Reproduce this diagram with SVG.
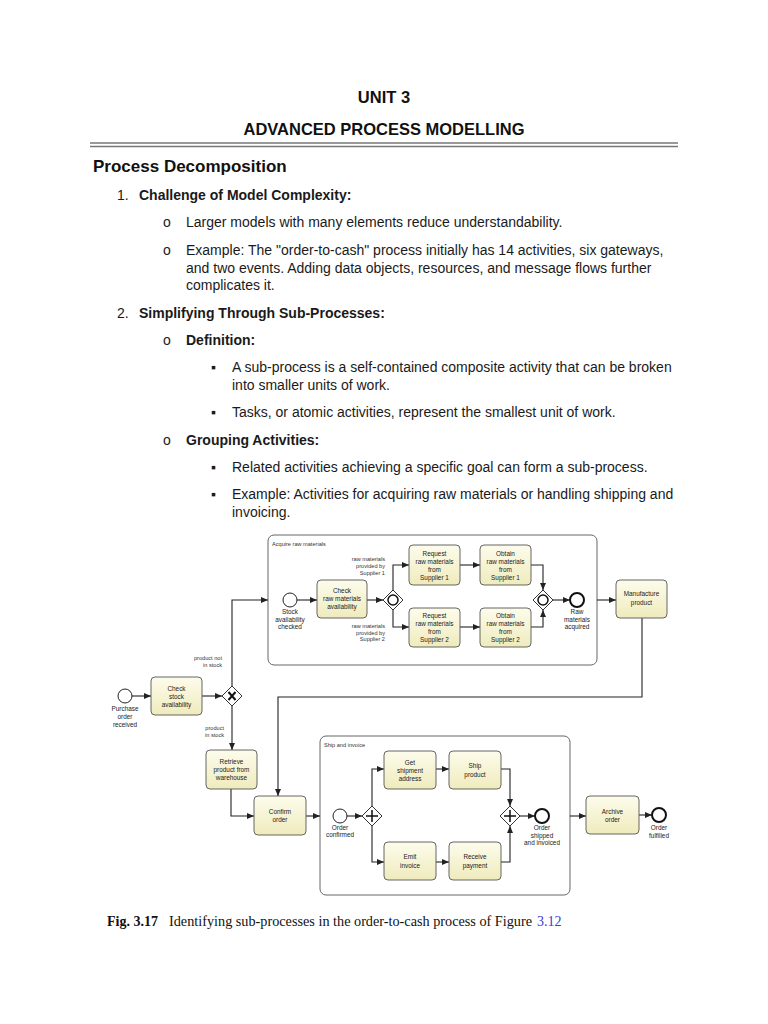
<svg xmlns="http://www.w3.org/2000/svg" width="768" height="1024" viewBox="0 0 768 1024">
<defs>
<linearGradient id="taskFill" x1="0" y1="0" x2="0" y2="1">
<stop offset="0" stop-color="#fdfcec"/>
<stop offset="1" stop-color="#efebbd"/>
</linearGradient>
<marker id="arr" markerUnits="userSpaceOnUse" markerWidth="7" markerHeight="6" refX="7" refY="3" orient="auto">
<path d="M0,0 L7,3 L0,6 z" fill="#222"/>
</marker>
</defs>
<style>
.body{font-family:"Liberation Sans",Arial,sans-serif;font-size:14px;fill:#1a1a1a}
.b{font-weight:700}
.h{font-family:"Liberation Sans",Arial,sans-serif;font-weight:700;fill:#111}
.task{fill:url(#taskFill);stroke:#555;stroke-width:0.9}
.sub{fill:#fff;stroke:#666;stroke-width:1}
.t{font-family:"Liberation Sans",Arial,sans-serif;font-size:6.4px;fill:#222;text-anchor:middle}
.lbl{font-family:"Liberation Sans",Arial,sans-serif;font-size:5.6px;fill:#333}
.r{text-anchor:end}
.ev{fill:#fff;stroke:#222;stroke-width:1}
.end{fill:#fff;stroke:#111;stroke-width:2}
.gw{fill:#fff;stroke:#333;stroke-width:1}
.flow{fill:none;stroke:#222;stroke-width:1.1;marker-end:url(#arr)}
.cap{font-family:"Liberation Serif","Times New Roman",serif;font-size:14px;fill:#111}
.link{fill:#3a3ad6}
</style>
<rect width="768" height="1024" fill="#fff"/>

<g id="header">
<text class="h" x="384" y="103" font-size="16.5" text-anchor="middle">UNIT 3</text>
<text class="h" x="384" y="135" font-size="16.5" text-anchor="middle" textLength="281" lengthAdjust="spacingAndGlyphs">ADVANCED PROCESS MODELLING</text>
<line x1="90" y1="143" x2="678" y2="143" stroke="#777" stroke-width="1.4"/>
<line x1="90" y1="146.5" x2="678" y2="146.5" stroke="#777" stroke-width="1.4"/>
<text class="h" x="93" y="172" font-size="17">Process Decomposition</text>
</g>

<g id="bodytext">
<text class="body" x="117" y="200">1.</text>
<text class="body b" x="139" y="200">Challenge of Model Complexity:</text>
<text class="body" x="163" y="227" font-size="11">o</text>
<text class="body" x="186" y="227">Larger models with many elements reduce understandability.</text>
<text class="body" x="163" y="255" font-size="11">o</text>
<text class="body" x="186" y="255">Example: The "order-to-cash" process initially has 14 activities, six gateways,</text>
<text class="body" x="186" y="273">and two events. Adding data objects, resources, and message flows further</text>
<text class="body" x="186" y="290">complicates it.</text>
<text class="body" x="117" y="318">2.</text>
<text class="body b" x="139" y="318">Simplifying Through Sub-Processes:</text>
<text class="body" x="163" y="345" font-size="11">o</text>
<text class="body b" x="186" y="345">Definition:</text>
<text class="body" x="211" y="372" font-size="10">▪</text>
<text class="body" x="232" y="372">A sub-process is a self-contained composite activity that can be broken</text>
<text class="body" x="232" y="390">into smaller units of work.</text>
<text class="body" x="211" y="417" font-size="10">▪</text>
<text class="body" x="232" y="417">Tasks, or atomic activities, represent the smallest unit of work.</text>
<text class="body" x="163" y="445" font-size="11">o</text>
<text class="body b" x="186" y="445">Grouping Activities:</text>
<text class="body" x="211" y="472" font-size="10">▪</text>
<text class="body" x="232" y="472">Related activities achieving a specific goal can form a sub-process.</text>
<text class="body" x="211" y="499" font-size="10">▪</text>
<text class="body" x="232" y="499">Example: Activities for acquiring raw materials or handling shipping and</text>
<text class="body" x="232" y="517">invoicing.</text>
</g>

<g id="sp-acquire">
<rect class="sub" x="268" y="535" width="329" height="130" rx="6"/>
<text class="lbl" x="272" y="546" font-size="6">Acquire raw materials</text>
</g>
<g id="sp-ship">
<rect class="sub" x="320" y="736" width="250" height="159" rx="6"/>
<text class="lbl" x="324" y="747" font-size="6">Ship and invoice</text>
</g>

<g id="connectors">
<path class="flow" d="M132,696 H151"/>
<path class="flow" d="M202,696 H222"/>
<path class="flow" d="M232,686 V600 H268"/>
<path class="flow" d="M232,706 V750"/>
<path class="flow" d="M231,789 V816 H254"/>
<path class="flow" d="M297,600 H317"/>
<path class="flow" d="M367,600 H383"/>
<path class="flow" d="M393,590 V565 H409"/>
<path class="flow" d="M460,565 H480"/>
<path class="flow" d="M531,565 H543 V590"/>
<path class="flow" d="M393,610 V627 H409"/>
<path class="flow" d="M460,627 H480"/>
<path class="flow" d="M531,627 H543 V610"/>
<path class="flow" d="M553,600 H570"/>
<path class="flow" d="M597,600 H616"/>
<path class="flow" d="M642,618 V697 H278 V796"/>
<path class="flow" d="M306,816 H320"/>
<path class="flow" d="M347,816 H362"/>
<path class="flow" d="M372,806 V769 H384"/>
<path class="flow" d="M436,769 H449"/>
<path class="flow" d="M501,769 H510 V806"/>
<path class="flow" d="M372,826 V862 H384"/>
<path class="flow" d="M436,862 H449"/>
<path class="flow" d="M501,862 H510 V826"/>
<path class="flow" d="M520,816 H535"/>
<path class="flow" d="M570,816 H586"/>
<path class="flow" d="M639,815 H652"/>
</g>

<g id="flow-labels">
<text class="lbl r" x="222" y="660">product not</text>
<text class="lbl r" x="222" y="667">in stock</text>
<text class="lbl r" x="224" y="730">product</text>
<text class="lbl r" x="224" y="737">in stock</text>
<text class="lbl r" x="385" y="561" font-size="5.2">raw materials</text>
<text class="lbl r" x="385" y="568" font-size="5.2">provided by</text>
<text class="lbl r" x="385" y="575" font-size="5.2">Supplier 1</text>
<text class="lbl r" x="385" y="628" font-size="5.2">raw materials</text>
<text class="lbl r" x="385" y="634.5" font-size="5.2">provided by</text>
<text class="lbl r" x="385" y="641" font-size="5.2">Supplier 2</text>
</g>

<g id="ev-purchase">
<circle class="ev" cx="125" cy="696" r="7"/>
<text class="t" x="125" y="711">Purchase</text>
<text class="t" x="125" y="719">order</text>
<text class="t" x="125" y="727">received</text>
</g>
<g id="task-checkstock">
<rect class="task" x="151" y="677" width="51" height="38" rx="4"/>
<text class="t" x="176.5" y="691">Check</text>
<text class="t" x="176.5" y="699">stock</text>
<text class="t" x="176.5" y="707">availability</text>
</g>
<g id="gw-xor">
<path class="gw" d="M232,686 L242,696 L232,706 L222,696 Z"/>
<path d="M228.5,692 L235.5,700 M235.5,692 L228.5,700" stroke="#111" stroke-width="2"/>
</g>
<g id="task-retrieve">
<rect class="task" x="206" y="750" width="51" height="39" rx="4"/>
<text class="t" x="231.5" y="764">Retrieve</text>
<text class="t" x="231.5" y="772">product from</text>
<text class="t" x="231.5" y="780">warehouse</text>
</g>
<g id="task-confirm">
<rect class="task" x="254" y="796" width="52" height="39" rx="4"/>
<text class="t" x="280" y="814">Confirm</text>
<text class="t" x="280" y="822">order</text>
</g>

<g id="ev-stockchecked">
<circle class="ev" cx="290" cy="600" r="7"/>
<text class="t" x="290" y="614">Stock</text>
<text class="t" x="290" y="621.5">availability</text>
<text class="t" x="290" y="629">checked</text>
</g>
<g id="task-checkraw">
<rect class="task" x="317" y="580" width="50" height="38" rx="4"/>
<text class="t" x="342" y="593">Check</text>
<text class="t" x="342" y="601">raw materials</text>
<text class="t" x="342" y="609">availability</text>
</g>
<g id="gw-or-split">
<path class="gw" d="M393,590 L403,600 L393,610 L383,600 Z"/>
<circle cx="393" cy="600" r="5" fill="none" stroke="#111" stroke-width="1.5"/>
</g>
<g id="task-req1">
<rect class="task" x="409" y="545" width="51" height="40" rx="4"/>
<text class="t" x="434.5" y="556">Request</text>
<text class="t" x="434.5" y="564">raw materials</text>
<text class="t" x="434.5" y="572">from</text>
<text class="t" x="434.5" y="580">Supplier 1</text>
</g>
<g id="task-obt1">
<rect class="task" x="480" y="545" width="51" height="40" rx="4"/>
<text class="t" x="505.5" y="556">Obtain</text>
<text class="t" x="505.5" y="564">raw materials</text>
<text class="t" x="505.5" y="572">from</text>
<text class="t" x="505.5" y="580">Supplier 1</text>
</g>
<g id="task-req2">
<rect class="task" x="409" y="608" width="51" height="39" rx="4"/>
<text class="t" x="434.5" y="618">Request</text>
<text class="t" x="434.5" y="626">raw materials</text>
<text class="t" x="434.5" y="634">from</text>
<text class="t" x="434.5" y="642">Supplier 2</text>
</g>
<g id="task-obt2">
<rect class="task" x="480" y="608" width="51" height="39" rx="4"/>
<text class="t" x="505.5" y="618">Obtain</text>
<text class="t" x="505.5" y="626">raw materials</text>
<text class="t" x="505.5" y="634">from</text>
<text class="t" x="505.5" y="642">Supplier 2</text>
</g>
<g id="gw-or-join">
<path class="gw" d="M543,590 L553,600 L543,610 L533,600 Z"/>
<circle cx="543" cy="600" r="5" fill="none" stroke="#111" stroke-width="1.5"/>
</g>
<g id="ev-rawacquired">
<circle class="end" cx="577" cy="600" r="7"/>
<text class="t" x="577" y="614">Raw</text>
<text class="t" x="577" y="621.5">materials</text>
<text class="t" x="577" y="629">acquired</text>
</g>
<g id="task-manufacture">
<rect class="task" x="616" y="580" width="51" height="38" rx="4"/>
<text class="t" x="641.5" y="596">Manufacture</text>
<text class="t" x="641.5" y="605">product</text>
</g>

<g id="ev-orderconfirmed">
<circle class="ev" cx="340" cy="816" r="7"/>
<text class="t" x="340" y="830">Order</text>
<text class="t" x="340" y="837">confirmed</text>
</g>
<g id="gw-and-split">
<path class="gw" d="M372,806 L382,816 L372,826 L362,816 Z"/>
<path d="M372,810 V822 M366,816 H378" stroke="#111" stroke-width="1.5"/>
</g>
<g id="task-getaddr">
<rect class="task" x="384" y="751" width="52" height="38" rx="4"/>
<text class="t" x="410" y="765">Get</text>
<text class="t" x="410" y="773">shipment</text>
<text class="t" x="410" y="781">address</text>
</g>
<g id="task-ship">
<rect class="task" x="449" y="751" width="52" height="38" rx="4"/>
<text class="t" x="475" y="768">Ship</text>
<text class="t" x="475" y="777">product</text>
</g>
<g id="task-emit">
<rect class="task" x="384" y="842" width="52" height="38" rx="4"/>
<text class="t" x="410" y="859">Emit</text>
<text class="t" x="410" y="868">invoice</text>
</g>
<g id="task-receive">
<rect class="task" x="449" y="842" width="52" height="38" rx="4"/>
<text class="t" x="475" y="859">Receive</text>
<text class="t" x="475" y="868">payment</text>
</g>
<g id="gw-and-join">
<path class="gw" d="M510,806 L520,816 L510,826 L500,816 Z"/>
<path d="M510,810 V822 M504,816 H516" stroke="#111" stroke-width="1.5"/>
</g>
<g id="ev-shipped">
<circle class="end" cx="542" cy="816" r="7"/>
<text class="t" x="542" y="830">Order</text>
<text class="t" x="542" y="838">shipped</text>
<text class="t" x="542" y="845">and invoiced</text>
</g>
<g id="task-archive">
<rect class="task" x="586" y="796" width="53" height="38" rx="4"/>
<text class="t" x="612.5" y="814">Archive</text>
<text class="t" x="612.5" y="822">order</text>
</g>
<g id="ev-fulfilled">
<circle class="end" cx="659" cy="815" r="7"/>
<text class="t" x="659" y="830">Order</text>
<text class="t" x="659" y="838">fulfilled</text>
</g>

<g id="caption">
<text class="cap" x="107" y="926" font-weight="700">Fig. 3.17</text>
<text class="cap" x="169" y="926" textLength="363" lengthAdjust="spacingAndGlyphs">Identifying sub-processes in the order-to-cash process of Figure</text>
<text class="cap link" x="537" y="926">3.12</text>
</g>
</svg>
